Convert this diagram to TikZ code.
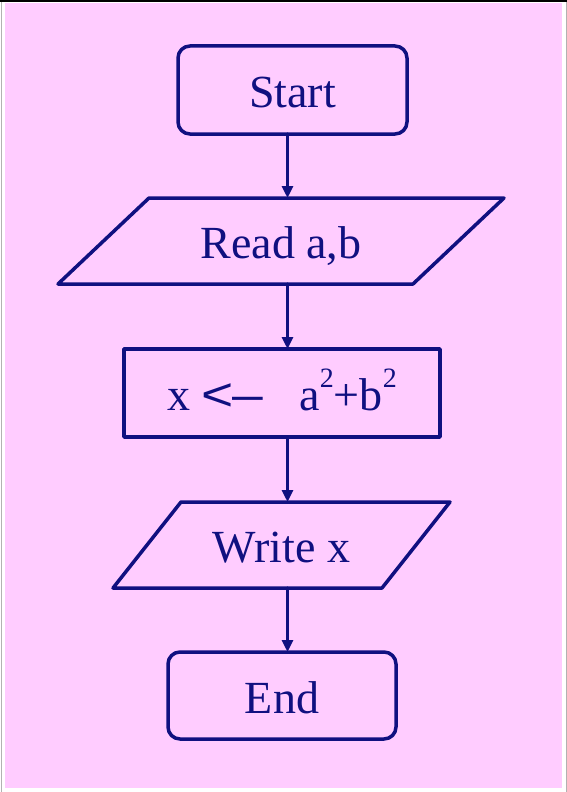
\documentclass[tikz,border=0pt]{standalone}
\usepackage{fontspec}
\setmainfont{Liberation Serif}
\setsansfont{Liberation Sans}
\usepackage{graphicx}
\usetikzlibrary{arrows.meta}
\definecolor{pinkbg}{RGB}{255,204,255}
\definecolor{navyline}{RGB}{16,16,128}
\tikzset{
  flowline/.style={line width=3.5pt,color=navyline,line join=round},
  flowbox/.style={flowline,draw,inner sep=0pt,outer sep=0pt,text height=35pt,text depth=0pt,font=\fontsize{46}{50}\selectfont},
  termbox/.style={flowbox,rounded corners=12pt},
  iobox/.style={inner sep=0pt,outer sep=0pt,text=navyline,text height=35pt,text depth=0pt,font=\fontsize{46}{50}\selectfont}
}
\begin{document}
\begin{tikzpicture}[line cap=round,>={Triangle[length=12pt,width=11pt]},x=1pt,y=-1pt]
\useasboundingbox (0,0) rectangle (567,792);
\fill[white] (0,0) rectangle (567,792);
\fill[pinkbg] (5,3) rectangle (562,788);
\draw[gray!60,line width=1pt] (1,0) -- (1,792);
\draw[gray!60,line width=1pt] (566,0) -- (566,792);
\draw[black,line width=2pt,line cap=butt] (0,1) -- (567,1);
% boxes
\node[termbox,minimum width=229pt,minimum height=88pt] (start) at (292.5,90) {Start};
\node[iobox,minimum width=355pt,minimum height=86pt] (read) at (281,241) {Read a,b};
\draw[flowline] ([xshift=45.5pt]read.north west) -- ([xshift=45.5pt]read.north east) -- ([xshift=-45.5pt]read.south east) -- ([xshift=-45.5pt]read.south west) -- cycle;
\node[flowbox,minimum width=316pt,minimum height=88pt] (calc) at (282,393) {x {\sffamily\scalebox{1.2}[1]{<\kern-1pt–}}\hspace{36pt}a\raisebox{23pt}{\fontsize{28}{30}\selectfont 2}+b\raisebox{23pt}{\fontsize{28}{30}\selectfont 2}};
\node[iobox,minimum width=269pt,minimum height=86pt] (write) at (281.5,545) {Write x};
\draw[flowline] ([xshift=34pt]write.north west) -- ([xshift=34pt]write.north east) -- ([xshift=-34pt]write.south east) -- ([xshift=-34pt]write.south west) -- cycle;
\node[termbox,minimum width=228pt,minimum height=87pt] (end) at (282,695.5) {End};
% arrows
\coordinate (spine) at (287.5,0);
\draw[flowline,->] (start.south -| spine) -- (read.north -| spine);
\draw[flowline,->] (read.south -| spine) -- (calc.north -| spine);
\draw[flowline,->] (calc.south -| spine) -- (write.north -| spine);
\draw[flowline,->] (write.south -| spine) -- (end.north -| spine);
\end{tikzpicture}
\end{document}
